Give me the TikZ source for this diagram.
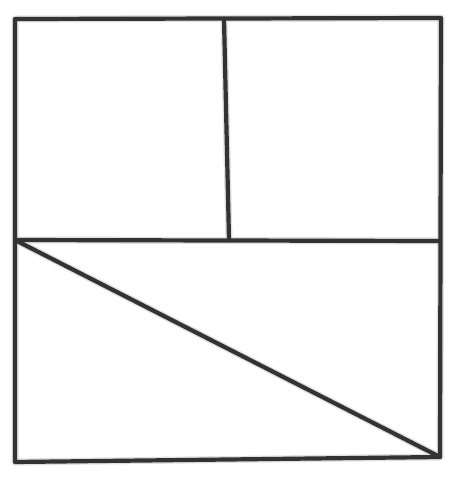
\documentclass[tikz,border=0pt]{standalone}
\begin{document}
\begin{tikzpicture}[x=1pt,y=-1pt,
  edge/.style={draw=black!80,line width=4.2pt,line join=round,line cap=round},
  shade/.style={draw=black!12,line width=7pt,line join=round,line cap=round}]
\useasboundingbox (0,0) rectangle (458,482);
\coordinate (tl) at (15,19);
\coordinate (tr) at (441,18);
\coordinate (br) at (440,457);
\coordinate (bl) at (15,462);
\coordinate (ml) at (15,240);
\coordinate (mr) at (440,241);
\coordinate (vt) at (224,19);
\coordinate (vb) at (229,240);
\begin{scope}[shift={(1,4)}]
\draw[shade] (tl) -- (tr) -- (br) -- (bl) -- cycle;
\draw[shade] (ml) -- (mr);
\draw[shade] (vt) -- (vb);
\draw[shade] (ml) -- (br);
\end{scope}
\draw[edge] (tl) -- (tr) -- (br) -- (bl) -- cycle;
\draw[edge] (ml) -- (mr);
\draw[edge] (vt) -- (vb);
\draw[edge] (ml) -- (br);
\end{tikzpicture}
\end{document}
